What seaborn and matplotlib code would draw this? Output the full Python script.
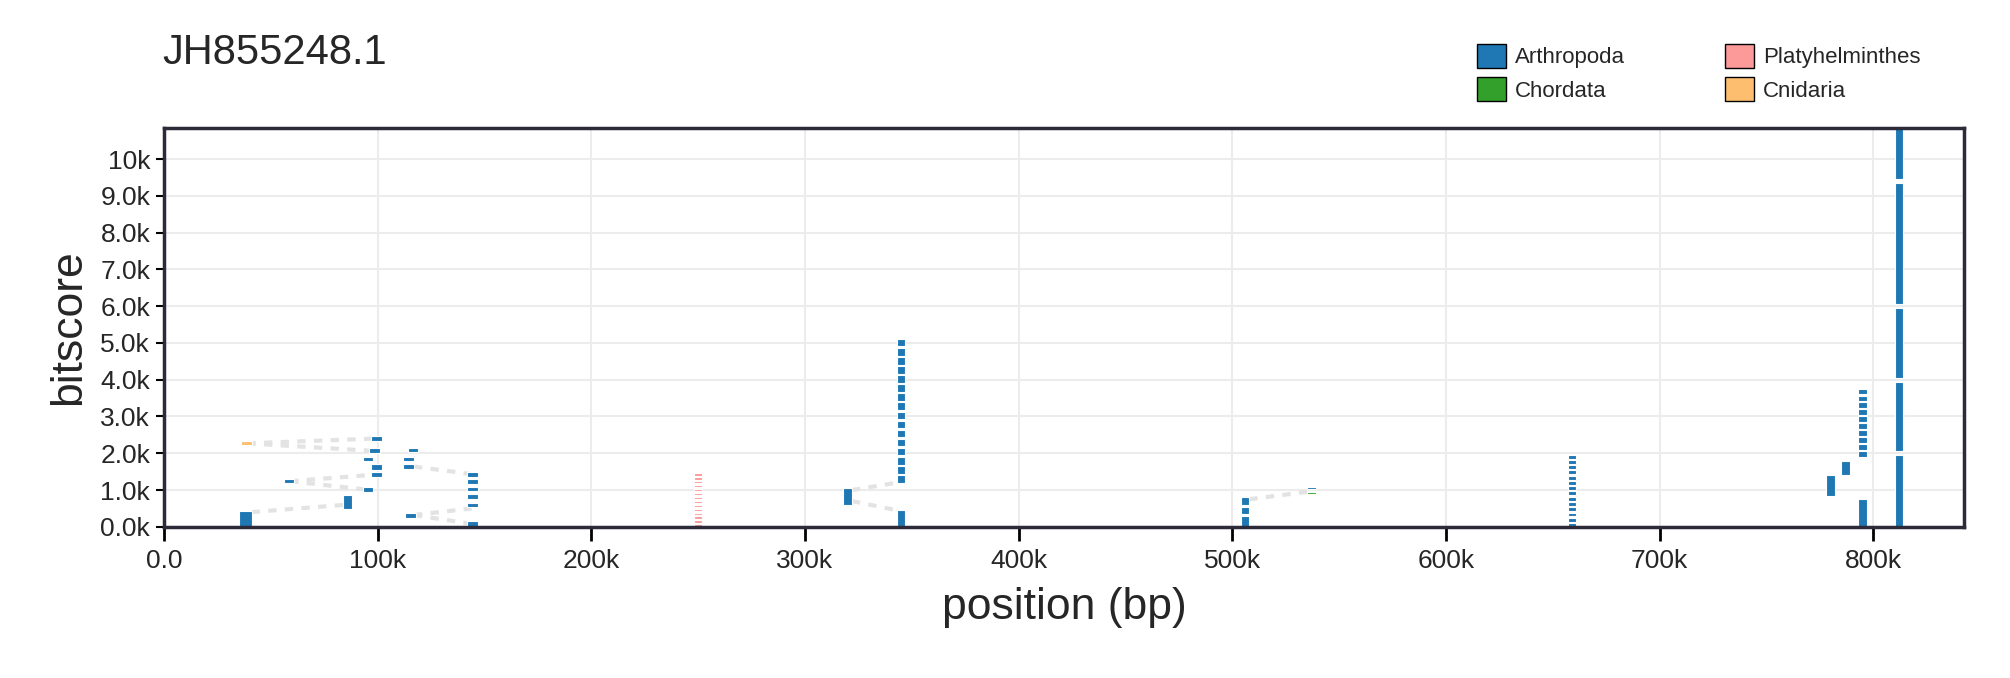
import numpy as np
import pandas as pd
import seaborn as sns
import matplotlib.pyplot as plt
from matplotlib.patches import Patch

# hit blocks: start/end (kb), bitscore low/high, phylum
x0 = [35, 97, 96, 93, 97, 97, 93, 84, 56, 114, 112, 112, 113,
      142, 142, 142, 142, 142, 142, 36,
      318, 504, 504, 504, 535, 535,
      778, 785, 793, 810, 810, 810, 810, 810]
x1 = [41, 102, 101, 98, 102, 102, 98, 88, 61, 119, 117, 117, 118,
      147, 147, 147, 147, 147, 147, 41,
      322, 508, 508, 508, 539, 539,
      782, 789, 797, 814, 814, 814, 814, 814]
y0 = [0, 2330, 2000, 1780, 1550, 1350, 950, 480, 1180, 2030, 1780, 1580, 250,
      1360, 1160, 960, 750, 530, 0, 2220,
      600, 0, 350, 600, 880, 1020,
      850, 1400, 0, 0, 2050, 4050, 6050, 9450]
y1 = [420, 2480, 2130, 1900, 1700, 1500, 1080, 870, 1300, 2150, 1900, 1710, 380,
      1500, 1290, 1090, 880, 660, 150, 2320,
      1050, 300, 550, 800, 940, 1080,
      1400, 1800, 750, 1950, 3950, 5950, 9350, 10900]
phylum = ['Arthropoda'] * 19 + ['Cnidaria'] + ['Arthropoda'] * 4 + ['Chordata', 'Arthropoda'] + ['Arthropoda'] * 8

# stacked columns of short segments: x (kb), top bitscore, count, phylum
col_x = [250, 345, 345, 659, 795]
col_low = [0, 1200, 0, 0, 1900]
col_high = [1500, 5150, 500, 2000, 3800]
col_n = [14, 16, 1, 14, 10]
col_phylum = ['Platyhelminthes', 'Arthropoda', 'Arthropoda', 'Arthropoda', 'Arthropoda']

# dashed links between hits: (x, y) -> (x, y)
link_from = [(39, 2270), (39, 2270), (59, 1240), (59, 1240), (41, 400), (117, 1640), (117, 320), (117, 320), (322, 1000), (322, 700), (508, 750)]
link_to = [(99, 2400), (99, 2060), (99, 1420), (95, 1010), (85, 600), (144, 1430), (144, 500), (144, 80), (343, 1200), (343, 450), (535, 950)]

colors = {'Arthropoda': '#1f78b4', 'Chordata': '#33a02c',
          'Platyhelminthes': '#fb9a99', 'Cnidaria': '#fdbf6f'}

rows = []
for a, b, lo, hi, p in zip(x0, x1, y0, y1, phylum):
    rows.append((a * 1000, b * 1000, lo, hi, p))
for cx, lo, hi, n, p in zip(col_x, col_low, col_high, col_n, col_phylum):
    step = (hi - lo) / n
    for i in range(n):
        rows.append(((cx - 2) * 1000, (cx + 2) * 1000, lo + i * step, lo + (i + 1) * step - 40, p))
hits = pd.DataFrame(rows, columns=['start', 'end', 'low', 'high', 'phylum'])

sns.set_style('whitegrid')
plt.rcParams['font.family'] = ['Liberation Sans', 'DejaVu Sans']

fig = plt.figure(figsize=(20.1, 6.78), dpi=100)
ax = fig.add_axes([0.0816, 0.223, 0.8955, 0.588])

for (fx, fy), (tx, ty) in zip(link_from, link_to):
    ax.plot([fx * 1000, tx * 1000], [fy, ty], color='#e3e3e3', lw=3, ls=(0, (2, 2)), zorder=1)

ax.bar(hits['start'], hits['high'] - hits['low'], width=hits['end'] - hits['start'],
       bottom=hits['low'], align='edge', color=[colors[p] for p in hits['phylum']],
       edgecolor='white', linewidth=0.8, zorder=2)

ax.set_xlim(0, 842500)
ax.set_ylim(0, 10840)
ax.set_xticks(np.arange(0, 900000, 100000))
ax.set_xticklabels(['0.0'] + [f'{i}00k' for i in range(1, 9)])
ax.set_yticks(np.arange(0, 10001, 1000))
ax.set_yticklabels([f'{i}.0k' for i in range(10)] + ['10k'])
ax.grid(color='#ececec', lw=1.5)
for s in ax.spines.values():
    s.set_color('#2d2a3a')
    s.set_linewidth(2.5)
ax.tick_params(axis='x', bottom=True, length=10, width=2, color='black', labelsize=19, pad=6)
ax.tick_params(axis='y', left=True, length=6, width=1.5, color='black', labelsize=19, pad=4)
ax.set_xlabel('position (bp)', fontsize=32, labelpad=10)
ax.set_ylabel('bitscore', fontsize=32, labelpad=8)
fig.text(0.081, 0.905, 'JH855248.1', fontsize=30)

handles = [Patch(facecolor=colors[k], edgecolor='black', label=k)
           for k in ['Arthropoda', 'Chordata', 'Platyhelminthes', 'Cnidaria']]
fig.legend(handles=handles, ncol=2, loc='upper left', bbox_to_anchor=(0.725, 0.965),
           frameon=False, fontsize=16, handlelength=1.3, handleheight=1.3,
           columnspacing=4.5, labelspacing=0.4, handletextpad=0.4)

fig.savefig('out.png', dpi=100)
